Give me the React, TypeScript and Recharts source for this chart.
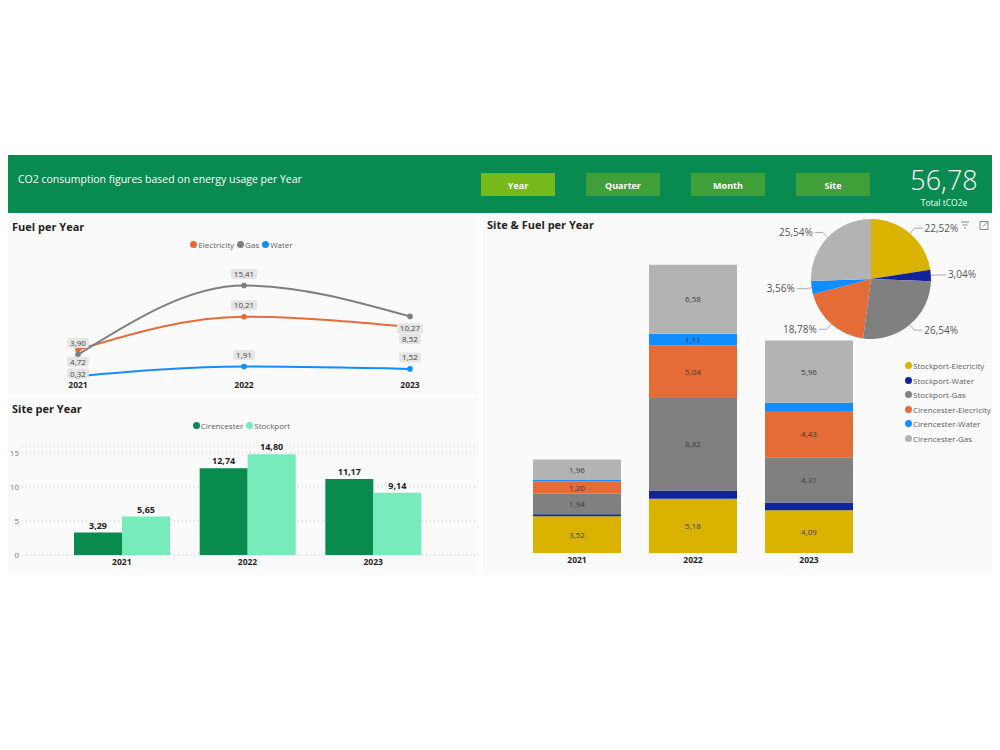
import React from 'react';
import { LineChart, Line, BarChart, Bar, XAxis, YAxis, CartesianGrid, LabelList, PieChart, Pie, Cell } from 'recharts';

const years = ['2021', '2022', '2023'];

// Fuel per Year
const electricity = [4.72, 10.21, 8.52];
const gas = [3.9, 15.41, 10.27];
const water = [0.32, 1.91, 1.52];

// Site per Year
const cirencester = [3.29, 12.74, 11.17];
const stockport = [5.65, 14.8, 9.14];

// Site & Fuel per Year (stack, bottom to top)
const stockportElec = [3.52, 5.18, 4.09];
const stockportWater = [0.19, 0.8, 0.74];
const stockportGas = [1.94, 8.82, 4.31];
const cirencesterElec = [1.2, 5.04, 4.43];
const cirencesterWater = [0.13, 1.11, 0.78];
const cirencesterGas = [1.96, 6.58, 5.96];

const siteFuelNames = [
  'Stockport-Elecricity',
  'Stockport-Water',
  'Stockport-Gas',
  'Cirencester-Elecricity',
  'Cirencester-Water',
  'Cirencester-Gas',
];
const pieShares = [22.52, 3.04, 26.54, 18.78, 3.56, 25.54];
const totalCo2 = 56.78;

const buttons = ['Year', 'Quarter', 'Month', 'Site'];

const FONT = "'Segoe UI', 'Open Sans', sans-serif";
const fuelColors = { Electricity: '#E66C37', Gas: '#7F7F7F', Water: '#118DFF' };
const siteColors = { Cirencester: '#098B50', Stockport: '#77EBBC' };
const stackColors = ['#D9B300', '#12239E', '#808080', '#E66C37', '#118DFF', '#B3B3B3'];

const fmt = (v: number) => v.toFixed(2).replace('.', ',');

const fuelData = years.map((year, i) => ({ year, Electricity: electricity[i], Gas: gas[i], Water: water[i] }));
const siteData = years.map((year, i) => ({ year, Cirencester: cirencester[i], Stockport: stockport[i] }));
const stackSeries = [stockportElec, stockportWater, stockportGas, cirencesterElec, cirencesterWater, cirencesterGas];
const stackData = years.map((year, i) => {
  const row: any = { year };
  siteFuelNames.forEach((n, k) => (row[n] = stackSeries[k][i]));
  return row;
});
const pieData = siteFuelNames.map((name, i) => ({ name, value: pieShares[i] }));

// where Power BI put each line label relative to its point
const labelPlace: Record<string, string[]> = {
  Electricity: ['below', 'above', 'below'],
  Gas: ['above', 'above', 'below'],
  Water: ['center', 'above', 'above'],
};

function fuelLabel(series: string) {
  return (p: any) => {
    const { x, y, value, index } = p;
    const place = labelPlace[series][index];
    const dy = place === 'above' ? -11.5 : place === 'below' ? 12 : -2.5;
    const text = fmt(Number(value));
    const w = text.length * 4.4 + 4;
    return (
      <g>
        <rect x={x - w / 2} y={y + dy - 5} width={w} height={10} rx={2} fill="#E4E4E4" />
        <text x={x} y={y + dy + 3} textAnchor="middle" fontSize={8} fill="#444" fontFamily={FONT}>
          {text}
        </text>
      </g>
    );
  };
}

function stackLabel(p: any) {
  const { x, y, width, height, value } = p;
  if (Number(value) < 1) return null;
  return (
    <text x={x + width / 2} y={y + height / 2 + 3} textAnchor="middle" fontSize={8} fill="#3b3b3b" fontFamily={FONT}>
      {fmt(Number(value))}
    </text>
  );
}

const RAD = Math.PI / 180;
function pieLabel(p: any) {
  const { cx, cy, midAngle, outerRadius, value } = p;
  const cos = Math.cos(-midAngle * RAD);
  const sin = Math.sin(-midAngle * RAD);
  const x0 = cx + outerRadius * cos;
  const y0 = cy + outerRadius * sin;
  const x1 = cx + (outerRadius + 7) * cos;
  const y1 = cy + (outerRadius + 7) * sin;
  const right = cos >= 0;
  const x2 = x1 + (right ? 8 : -8);
  return (
    <g>
      <polyline points={`${x0},${y0} ${x1},${y1} ${x2},${y1}`} fill="none" stroke="#999" strokeWidth={0.8} />
      <text x={x2 + (right ? 2 : -2)} y={y1 + 3.5} textAnchor={right ? 'start' : 'end'} fontSize={10} fill="#555" fontFamily={FONT}>
        {fmt(Number(value))}%
      </text>
    </g>
  );
}

const panel: React.CSSProperties = { position: 'absolute', background: '#FAFAFA' };
const title: React.CSSProperties = { position: 'absolute', fontSize: 11, fontWeight: 700, color: '#252423', whiteSpace: 'nowrap' };

function Dot({ color }: { color: string }) {
  return <span style={{ display: 'inline-block', width: 7, height: 7, borderRadius: 4, background: color, marginRight: 1 }} />;
}

export default function App() {
  const axisTick = { fontSize: 8.5, fontWeight: 700, fill: '#252423', fontFamily: FONT };
  return (
    <div style={{ position: 'absolute', left: 0, top: 0, width: 1000, height: 750, background: '#fff', fontFamily: FONT }}>
      {/* header */}
      <div style={{ position: 'absolute', left: 8, top: 155, width: 984, height: 58, background: '#088A50' }}>
        <div style={{ position: 'absolute', left: 10, top: 17, fontSize: 10.5, color: '#fff', whiteSpace: 'nowrap' }}>
          CO2 consumption figures based on energy usage per Year
        </div>
        {buttons.map((b, i) => (
          <div
            key={b}
            style={{
              position: 'absolute',
              left: 473 + i * 105,
              top: 18,
              width: 74,
              height: 23,
              background: i === 0 ? '#76B91B' : '#3FA039',
              color: '#fff',
              fontSize: 9,
              fontWeight: 700,
              lineHeight: '25px',
              textAlign: 'center',
            }}
          >
            {b}
          </div>
        ))}
        <div style={{ position: 'absolute', left: 896, top: 9, width: 80, textAlign: 'center', color: '#fff' }}>
          <div style={{ fontSize: 27, lineHeight: '32px', fontWeight: 300 }}>{fmt(totalCo2)}</div>
          <div style={{ fontSize: 8.5, lineHeight: '13px' }}>Total tCO2e</div>
        </div>
      </div>

      {/* Fuel per Year */}
      <div style={{ ...panel, left: 8, top: 215, width: 470, height: 180 }}>
        <div style={{ ...title, left: 4, top: 4 }}>Fuel per Year</div>
        <div style={{ position: 'absolute', left: 0, top: 24, width: 470, textAlign: 'center', fontSize: 8, color: '#605E5C' }}>
          {Object.keys(fuelColors).map((k) => (
            <span key={k} style={{ marginRight: 3 }}>
              <Dot color={(fuelColors as any)[k]} />
              {k}
            </span>
          ))}
        </div>
        <div style={{ position: 'absolute', left: 0, top: 0 }}>
          <LineChart width={470} height={180} data={fuelData} margin={{ top: 43, right: 0, bottom: 0, left: 0 }}>
            <XAxis dataKey="year" axisLine={false} tickLine={false} tickSize={0} tickMargin={4} height={17} padding={{ left: 70, right: 68 }} tick={axisTick} interval={0} />
            <YAxis hide domain={[0, 20]} />
            {Object.keys(fuelColors).map((k) => (
              <Line
                key={k}
                type="monotone"
                dataKey={k}
                stroke={(fuelColors as any)[k]}
                strokeWidth={2}
                dot={{ r: 2.8, fill: (fuelColors as any)[k], stroke: (fuelColors as any)[k], strokeWidth: 0 }}
                isAnimationActive={false}
              >
                <LabelList dataKey={k} content={fuelLabel(k)} />
              </Line>
            ))}
          </LineChart>
        </div>
      </div>

      {/* Site per Year */}
      <div style={{ ...panel, left: 8, top: 397, width: 470, height: 178 }}>
        <div style={{ ...title, left: 4, top: 4 }}>Site per Year</div>
        <div style={{ position: 'absolute', left: 0, top: 23, width: 470, textAlign: 'center', fontSize: 8, color: '#605E5C' }}>
          {Object.keys(siteColors).map((k) => (
            <span key={k} style={{ marginRight: 3 }}>
              <Dot color={(siteColors as any)[k]} />
              {k}
            </span>
          ))}
        </div>
        <div style={{ position: 'absolute', left: 0, top: 0 }}>
          <BarChart width={470} height={178} data={siteData} margin={{ top: 49, right: 3, bottom: 0, left: 0 }} barCategoryGap={15} barGap={0}>
            <CartesianGrid vertical={false} stroke="#C8C8C8" strokeDasharray="1 3" />
            <XAxis dataKey="year" axisLine={false} tickLine={false} tickSize={0} tickMargin={4} height={20} padding={{ left: 37, right: 39 }} tick={axisTick} interval={0} />
            <YAxis width={14} domain={[0, 16]} ticks={[0, 5, 10, 15]} axisLine={false} tickLine={false} tickSize={0} tickMargin={3} tick={{ fontSize: 8, fill: '#777', fontFamily: FONT }} />
            {Object.keys(siteColors).map((k) => (
              <Bar key={k} dataKey={k} fill={(siteColors as any)[k]} isAnimationActive={false}>
                <LabelList
                  dataKey={k}
                  position="top"
                  offset={4}
                  formatter={(v: any) => fmt(Number(v))}
                  style={{ fontSize: 9, fontWeight: 700, fill: '#252423', fontFamily: FONT }}
                />
              </Bar>
            ))}
          </BarChart>
        </div>
      </div>

      {/* Site & Fuel per Year */}
      <div style={{ ...panel, left: 483, top: 215, width: 509, height: 360 }}>
        <div style={{ ...title, left: 4, top: 2 }}>Site &amp; Fuel per Year</div>
        <div style={{ position: 'absolute', left: 0, top: 0 }}>
          <BarChart width={400} height={360} data={stackData} margin={{ top: 24, right: 16, bottom: 0, left: 36 }} barCategoryGap={14}>
            <XAxis dataKey="year" axisLine={false} tickLine={false} tickSize={0} tickMargin={4} height={22} tick={axisTick} interval={0} />
            <YAxis hide domain={[0, 30]} />
            {siteFuelNames.map((n, i) => (
              <Bar key={n} dataKey={n} stackId="a" fill={stackColors[i]} isAnimationActive={false}>
                <LabelList dataKey={n} content={stackLabel} />
              </Bar>
            ))}
          </BarChart>
        </div>
        <div style={{ position: 'absolute', left: 277, top: -5 }}>
          <PieChart width={230} height={140} margin={{ top: 0, right: 0, bottom: 0, left: 0 }}>
            <Pie
              data={pieData}
              dataKey="value"
              cx={111}
              cy={69}
              outerRadius={60}
              startAngle={90}
              endAngle={-270}
              stroke="none"
              label={pieLabel}
              labelLine={false}
              isAnimationActive={false}
            >
              {pieData.map((d, i) => (
                <Cell key={d.name} fill={stackColors[i]} />
              ))}
            </Pie>
          </PieChart>
        </div>
        <svg style={{ position: 'absolute', left: 477, top: 5 }} width={30} height={12}>
          <g stroke="#888" strokeWidth={1}>
            <line x1={1} y1={2} x2={9} y2={2} />
            <line x1={2.5} y1={5} x2={7.5} y2={5} />
            <line x1={4} y1={8} x2={6} y2={8} />
            <rect x={20} y={1.5} width={8} height={8} fill="none" />
            <line x1={23} y1={6.5} x2={28} y2={1.5} />
          </g>
        </svg>
        <div style={{ position: 'absolute', left: 422, top: 144, fontSize: 8, color: '#605E5C' }}>
          {siteFuelNames.map((n, i) => (
            <div key={n} style={{ height: 14.6, lineHeight: '14.6px', whiteSpace: 'nowrap' }}>
              <Dot color={stackColors[i]} />
              {n}
            </div>
          ))}
        </div>
      </div>
    </div>
  );
}
